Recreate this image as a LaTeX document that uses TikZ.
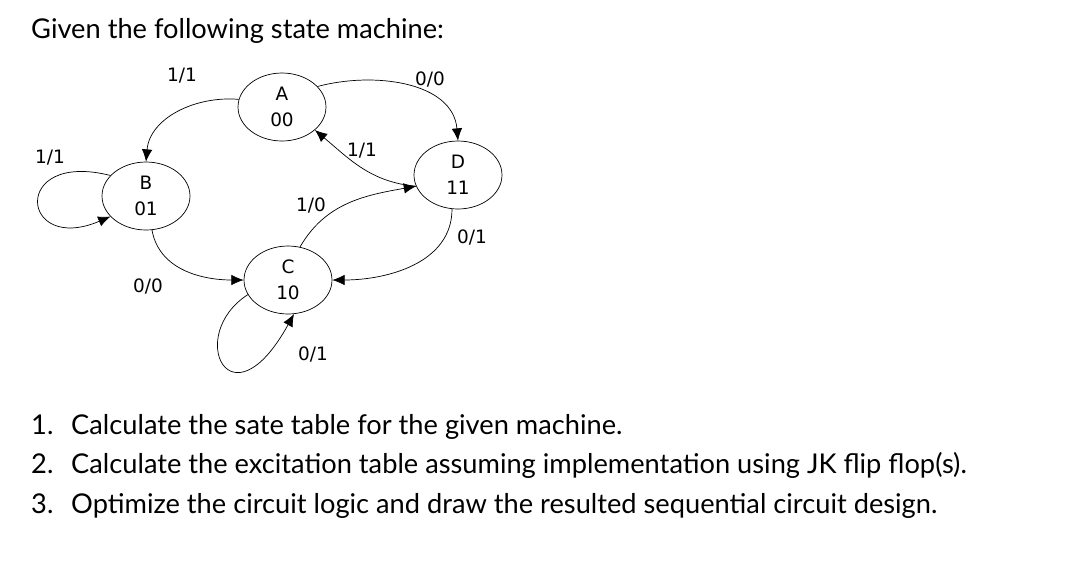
\documentclass[tikz,border=0pt]{standalone}
\usepackage{fontspec}
\setmainfont{Lato}
\newfontfamily\lblfont{DejaVu Sans}
\newfontfamily\stfont{DejaVu Sans}
\usetikzlibrary{shapes.geometric, arrows.meta}

\begin{document}
\begin{tikzpicture}[x=0.02cm, y=-0.02cm]
  \tikzset{state/.style={draw, ellipse, minimum width=1.76cm, minimum height=1.36cm,
      inner sep=0pt, align=center, font=\stfont\fontsize{10.5}{15}\selectfont},
    trans/.style={-{Latex[length=7pt,width=6pt]}, thin},
    lbl/.style={font=\lblfont\fontsize{10.5}{12}\selectfont},
    txt/.style={anchor=base west, font=\fontsize{15.5}{18}\selectfont}}
  \useasboundingbox (0,0) rectangle (1066,562);

  \node[txt] (title) at (25,38) {Given the following state machine:};

  \node[state] (A) at (282,107) {A\\00};
  \node[state] (B) at (146,196) {B\\01};
  \node[state] (C) at (288,280) {C\\10};
  \node[state] (D) at (458,175) {D\\11};

  \draw[trans] (A.170) to[out=175, in=85] (B.north); % A to B
  \draw[trans] (A.30) to[out=15, in=95] (D.north); % A to D
  \draw[trans] (D.195) to[out=175, in=-40] (A.-35); % D to A
  \draw[trans] (B.150) .. controls (10,150) and (20,255) .. (B.210); % B loop
  \draw[trans] (B.-80) to[out=-80, in=180] (C.180); % B to C
  \draw[trans] (C.70) to[out=60, in=190] (D.195); % C to D
  \draw[trans] (D.-100) to[out=-90, in=0] (C.0); % D to C
  \draw[trans] (C.200) .. controls (185,335) and (230,430) .. (C.-80); % C loop

  \node[lbl] (ab) at (182,76) {1/1};
  \node[lbl] (ad) at (430,80) {0/0};
  \node[lbl] (da) at (362,151) {1/1};
  \node[lbl] (bb) at (50,158) {1/1};
  \node[lbl] (bc) at (148,287) {0/0};
  \node[lbl] (cd) at (311,206) {1/0};
  \node[lbl] (dc) at (472,238) {0/1};
  \node[lbl] (cc) at (313,355) {0/1};

  \node[txt] (q1) at (25,434) {1.};
  \node[txt] (q1t) at (65,434) {Calculate the sate table for the given machine.};
  \node[txt] (q2) at (25,473) {2.};
  \node[txt] (q2t) at (65,473) {Calculate the excitation table assuming implementation using JK flip flop(s).};
  \node[txt] (q3) at (25,513) {3.};
  \node[txt] (q3t) at (65,513) {Optimize the circuit logic and draw the resulted sequential circuit design.};
\end{tikzpicture}
\end{document}
